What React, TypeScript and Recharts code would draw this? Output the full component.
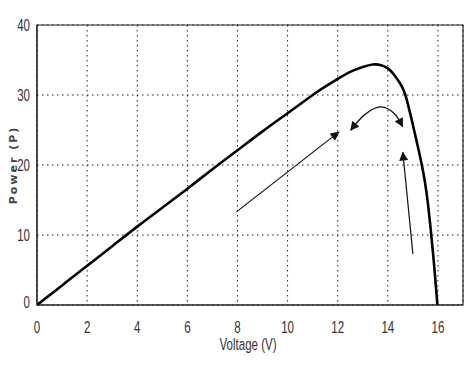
import React from 'react';
import { LineChart, Line, XAxis, YAxis, CartesianGrid, ReferenceArea } from 'recharts';

const voltage = [0, 1, 2, 3, 4, 5, 6, 7, 8, 9, 10, 11, 11.5, 12, 12.5, 13, 13.4, 13.7, 14.0, 14.25, 14.5, 14.7, 14.95, 15.2, 15.4, 15.55, 15.7, 15.85, 15.98];
const power = [0, 2.8, 5.6, 8.4, 11.2, 13.9, 16.6, 19.4, 22.1, 24.8, 27.4, 30.0, 31.2, 32.3, 33.3, 34.0, 34.35, 34.3, 33.8, 32.9, 31.6, 30.0, 26.5, 22.6, 19.2, 15.9, 11.2, 5.6, 0];

const arrow1V = [7.96, 12.04];
const arrow1P = [13.3, 24.7];
const arcV = [12.52, 13.05, 13.72, 14.32, 14.59];
const arcP = [25.0, 27.1, 28.3, 27.1, 25.5];
const arrow3V = [15.0, 14.6];
const arrow3P = [7.3, 21.8];

const xTicks = [0, 2, 4, 6, 8, 10, 12, 14, 16];
const yTicks = [0, 10, 20, 30, 40];

const zip = (xs: number[], ys: number[]) => xs.map((v, i) => ({ v, p: ys[i] }));
const curve = zip(voltage, power);
const arrow1 = zip(arrow1V, arrow1P);
const arc = zip(arcV, arcP);
const arrow3 = zip(arrow3V, arrow3P);

const font = '"Liberation Sans", Arial, sans-serif';
const SX = 0.72;

const NarrowText = ({ x, y, anchor, children, size = 16 }: any) => (
  <g transform={`translate(${x},${y}) scale(${SX},1)`}>
    <text x={0} y={0} textAnchor={anchor} fontFamily={font} fontSize={size} fill="#333">
      {children}
    </text>
  </g>
);

const XTick = (props: any) => {
  const { x, y, payload } = props;
  return <NarrowText x={x} y={y + 20} anchor="middle">{payload.value}</NarrowText>;
};

const YTick = (props: any) => {
  const { x, y, payload } = props;
  return <NarrowText x={x + 1} y={y + (payload.value === 0 ? 3 : 6)} anchor="end">{payload.value}</NarrowText>;
};

export default function App() {
  return (
    <div style={{ position: 'absolute', left: 0, top: 0, width: 474, height: 366, background: '#fff' }}>
      <svg width={0} height={0} style={{ position: 'absolute' }}>
        <defs>
          <marker id="ah" viewBox="0 0 10 10" refX="9" refY="5" markerUnits="userSpaceOnUse" markerWidth="10" markerHeight="9" orient="auto-start-reverse">
            <path d="M0,0 L10,5 L0,10 Z" fill="#111" />
          </marker>
        </defs>
      </svg>
      <LineChart width={474} height={366} margin={{ top: 25, right: 11, left: 0, bottom: 0 }}>
        <CartesianGrid stroke="#222" strokeDasharray="1.5 3.5" strokeWidth={1} />
        <XAxis
          dataKey="v"
          type="number"
          domain={[0, 17]}
          ticks={xTicks}
          allowDuplicatedCategory={false}
          height={61}
          tickLine={false}
          axisLine={{ stroke: '#222' }}
          tick={<XTick />}
          label={{
            content: (p: any) => {
              const vb = p.viewBox || {};
              return <NarrowText x={vb.x + vb.width / 2 - 2} y={350} anchor="middle" size={16}>Voltage (V)</NarrowText>;
            },
          }}
        />
        <YAxis
          dataKey="p"
          type="number"
          domain={[0, 40]}
          ticks={yTicks}
          width={37}
          tickLine={false}
          axisLine={{ stroke: '#222' }}
          tick={<YTick />}
          label={{ value: 'Power (P)', angle: -90, position: 'insideLeft', dx: 8, style: { fontFamily: '"DejaVu Sans", sans-serif', fontSize: 11, fontWeight: 'bold', letterSpacing: 2, fill: '#444', textAnchor: 'middle' } }}
        />
        <ReferenceArea x1={0} x2={17} y1={0} y2={40} fill="none" stroke="#222" strokeWidth={1.2} ifOverflow="visible" />
        <Line data={curve} dataKey="p" type="natural" stroke="#000" strokeWidth={2.6} dot={false} isAnimationActive={false} />
        <Line data={arrow1} dataKey="p" type="linear" stroke="#111" strokeWidth={1.2} dot={false} isAnimationActive={false} markerEnd="url(#ah)" />
        <Line data={arc} dataKey="p" type="monotone" stroke="#111" strokeWidth={1.4} dot={false} isAnimationActive={false} markerStart="url(#ah)" markerEnd="url(#ah)" />
        <Line data={arrow3} dataKey="p" type="linear" stroke="#111" strokeWidth={1.2} dot={false} isAnimationActive={false} markerEnd="url(#ah)" />
      </LineChart>
    </div>
  );
}
